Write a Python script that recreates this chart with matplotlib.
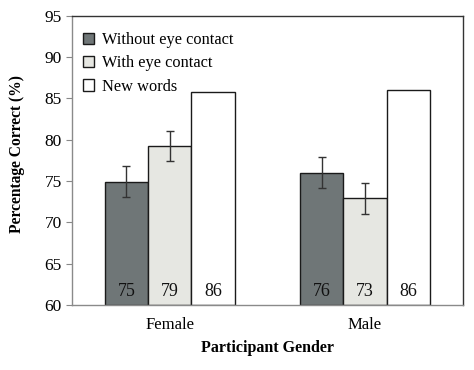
import matplotlib
matplotlib.use("Agg")
import matplotlib.pyplot as plt
import numpy as np

plt.rcParams['font.family'] = ['Liberation Serif', 'DejaVu Serif']

categories = ["Female", "Male"]
series_names = ["Without eye contact", "With eye contact", "New words"]
without_eye = [74.9, 76.0]
with_eye = [79.2, 72.9]
new_words = [85.7, 85.95]
err_without = [1.85, 1.85]
err_with = [1.85, 1.9]
value_labels = [["75", "76"], ["79", "73"], ["86", "86"]]
yticks = [60, 65, 70, 75, 80, 85, 90, 95]

colors = ["#6f7677", "#e6e7e2", "#ffffff"]

fig = plt.figure(figsize=(4.74, 3.70), dpi=100)
ax = fig.add_axes([0.152, 0.176, 0.824, 0.782])

x = np.arange(len(categories))
w = 0.222
series = [without_eye, with_eye, new_words]
errs = [err_without, err_with, None]
for i, (vals, name) in enumerate(zip(series, series_names)):
    pos = x + (i - 1) * w
    ax.bar(pos, np.array(vals) - 60, width=w, bottom=60, color=colors[i],
           edgecolor="#1a1a1a", linewidth=1.0, label=name, zorder=2)
    if errs[i] is not None:
        ax.errorbar(pos, vals, yerr=errs[i], fmt='none', ecolor="#333333",
                    elinewidth=1.0, capsize=3, capthick=1.0, zorder=3)
    for p, t in zip(pos, value_labels[i]):
        ax.text(p, 61.6, t, ha='center', va='center', fontsize=13, color="#111111", zorder=4)

ax.set_xlim(-0.5, 1.5)
ax.set_ylim(60, 95)
ax.set_yticks(yticks)
ax.set_xticks(x)
ax.set_xticklabels(categories, fontsize=12)
ax.tick_params(axis='y', labelsize=12.5, direction='out', length=4, color="#888888", width=0.8)
ax.tick_params(axis='x', length=0, pad=9)
ax.set_xlabel("Participant Gender", fontsize=11.5, fontweight='bold', labelpad=5)
ax.set_ylabel("Percentage Correct (%)", fontsize=11.2, fontweight='bold')
ax.yaxis.set_label_coords(-0.12, 0.52)

for s in ['left', 'bottom']:
    ax.spines[s].set_color("#8a8a8a")
for s in ['top', 'right']:
    ax.spines[s].set_color("#333333")
for s in ax.spines.values():
    s.set_linewidth(1.0)

leg = ax.legend(loc='upper left', frameon=False, fontsize=11.8, handlelength=0.7,
                handleheight=0.7, handletextpad=0.5, labelspacing=0.45,
                bbox_to_anchor=(0.0, 0.98), borderaxespad=0.25)

fig.savefig("out.png", dpi=100)
